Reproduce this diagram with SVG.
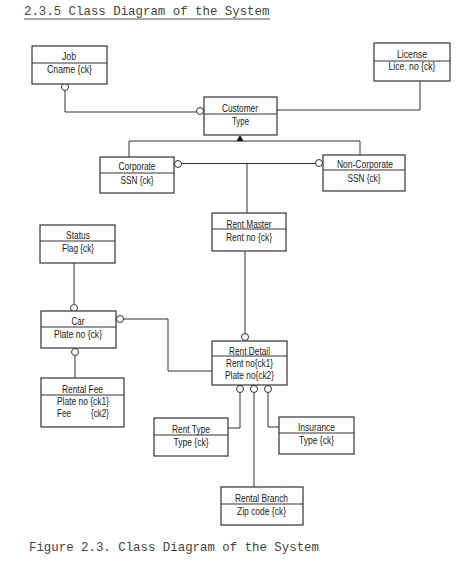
<svg xmlns="http://www.w3.org/2000/svg" width="474" height="582" viewBox="0 0 474 582">
<style>
.box{fill:#fff;stroke:#333;stroke-width:1.2}
.div{stroke:#333;stroke-width:1}
.t{font-family:"Liberation Sans",Arial,sans-serif;font-size:10.5px;fill:#1a1a1a;text-anchor:middle}
.ts{font-family:"Liberation Sans",Arial,sans-serif;font-size:10.5px;fill:#1a1a1a}
.mono{font-family:"Liberation Mono","Courier New",monospace;font-size:12.4px;fill:#444}
.ln{fill:none;stroke:#333;stroke-width:1}
.c{fill:#fff;stroke:#333;stroke-width:1}
</style>
<rect width="474" height="582" fill="#fff"/>
<text class="mono" x="24" y="15">2.3.5 Class Diagram of the System</text>
<line x1="24" y1="19" x2="270" y2="19" stroke="#555" stroke-width="1"/>

<g id="connectors">
<polyline class="ln" points="65,90.5 65,112 196.5,112"/>
<polyline class="ln" points="420,81 420,110 277,110"/>
<polyline class="ln" points="129,157 129,141 360,141 360,155"/>
<polygon points="240,135 236.5,141 243.5,141" fill="#111"/>
<line class="ln" x1="181.5" y1="163.5" x2="315.5" y2="163.5"/>
<line class="ln" x1="247" y1="163.5" x2="247" y2="213"/>
<line class="ln" x1="245" y1="251" x2="245" y2="333.5"/>
<line class="ln" x1="74" y1="263" x2="74" y2="304.5"/>
<polyline class="ln" points="123.5,319 168,319 168,371 212,371"/>
<line class="ln" x1="75" y1="355.5" x2="75" y2="378"/>
<polyline class="ln" points="240,392.5 240,428 228,428"/>
<line class="ln" x1="254" y1="392.5" x2="254" y2="487"/>
<polyline class="ln" points="268,392.5 268,427 279,427"/>
<circle class="c" cx="65" cy="87" r="3.5"/>
<circle class="c" cx="200" cy="111" r="3.5"/>
<circle class="c" cx="178" cy="164" r="3.5"/>
<circle class="c" cx="319" cy="163" r="3.5"/>
<circle class="c" cx="245" cy="337" r="3.5"/>
<circle class="c" cx="74" cy="308" r="3.5"/>
<circle class="c" cx="120" cy="319" r="3.5"/>
<circle class="c" cx="75" cy="352" r="3.5"/>
<circle class="c" cx="240" cy="389" r="3.5"/>
<circle class="c" cx="254" cy="389" r="3.5"/>
<circle class="c" cx="268" cy="389" r="3.5"/>
</g>

<g id="job">
<rect class="box" x="32" y="46" width="75" height="38"/>
<line class="div" x1="32" y1="63" x2="107" y2="63"/>
<text class="t" x="69" y="60" textLength="14" lengthAdjust="spacingAndGlyphs">Job</text>
<text class="t" x="69.5" y="72.5" textLength="45" lengthAdjust="spacingAndGlyphs">Cname {ck}</text>
</g>

<g id="license">
<rect class="box" x="374" y="43" width="76" height="38"/>
<line class="div" x1="374" y1="61" x2="450" y2="61"/>
<text class="t" x="412" y="57.5" textLength="30" lengthAdjust="spacingAndGlyphs">License</text>
<text class="t" x="412" y="69.5" textLength="47" lengthAdjust="spacingAndGlyphs">Lice. no {ck}</text>
</g>

<g id="customer">
<rect class="box" x="204" y="97" width="73" height="38"/>
<line class="div" x1="204" y1="114" x2="277" y2="114"/>
<text class="t" x="240" y="112" textLength="36" lengthAdjust="spacingAndGlyphs">Customer</text>
<text class="t" x="240.5" y="124.5" textLength="17" lengthAdjust="spacingAndGlyphs">Type</text>
</g>

<g id="corporate">
<rect class="box" x="100" y="157" width="74" height="36"/>
<line class="div" x1="100" y1="173" x2="174" y2="173"/>
<text class="t" x="137" y="170" textLength="37" lengthAdjust="spacingAndGlyphs">Corporate</text>
<text class="t" x="137" y="183.5" textLength="33" lengthAdjust="spacingAndGlyphs">SSN {ck}</text>
</g>

<g id="non-corporate">
<rect class="box" x="323" y="155" width="82" height="36"/>
<line class="div" x1="323" y1="170" x2="405" y2="170"/>
<text class="t" x="365" y="168" textLength="56" lengthAdjust="spacingAndGlyphs">Non-Corporate</text>
<text class="t" x="364" y="181.5" textLength="33" lengthAdjust="spacingAndGlyphs">SSN {ck}</text>
</g>

<g id="rent-master">
<rect class="box" x="212" y="213" width="74" height="38"/>
<line class="div" x1="212" y1="229" x2="286" y2="229"/>
<text class="t" x="249" y="228" textLength="45" lengthAdjust="spacingAndGlyphs">Rent Master</text>
<text class="t" x="249" y="240.5" textLength="46" lengthAdjust="spacingAndGlyphs">Rent no {ck}</text>
</g>

<g id="status">
<rect class="box" x="40" y="225" width="75" height="38"/>
<line class="div" x1="40" y1="241" x2="115" y2="241"/>
<text class="t" x="78" y="239" textLength="24" lengthAdjust="spacingAndGlyphs">Status</text>
<text class="t" x="78" y="251.5" textLength="32" lengthAdjust="spacingAndGlyphs">Flag {ck}</text>
</g>

<g id="car">
<rect class="box" x="41" y="311" width="75" height="37"/>
<line class="div" x1="41" y1="327" x2="116" y2="327"/>
<text class="t" x="78" y="325" textLength="13" lengthAdjust="spacingAndGlyphs">Car</text>
<text class="t" x="78" y="337.5" textLength="48" lengthAdjust="spacingAndGlyphs">Plate no {ck}</text>
</g>

<g id="rent-detail">
<rect class="box" x="212" y="341" width="75" height="44"/>
<line class="div" x1="212" y1="356" x2="287" y2="356"/>
<text class="t" x="249.5" y="354.5" textLength="41" lengthAdjust="spacingAndGlyphs">Rent Detail</text>
<text class="t" x="249.5" y="366.5" textLength="47" lengthAdjust="spacingAndGlyphs">Rent no{ck1}</text>
<text class="t" x="249.5" y="378.5" textLength="49" lengthAdjust="spacingAndGlyphs">Plate no{ck2}</text>
</g>

<g id="rental-fee">
<rect class="box" x="41" y="378" width="83" height="49"/>
<line class="div" x1="41" y1="395" x2="124" y2="395"/>
<text class="t" x="82.5" y="393" textLength="41" lengthAdjust="spacingAndGlyphs">Rental Fee</text>
<text class="ts" x="57" y="404.5" textLength="52" lengthAdjust="spacingAndGlyphs">Plate no {ck1}</text>
<text class="ts" x="57" y="416.5" textLength="14" lengthAdjust="spacingAndGlyphs">Fee</text>
<text class="ts" x="91" y="416.5" textLength="18" lengthAdjust="spacingAndGlyphs">{ck2}</text>
</g>

<g id="rent-type">
<rect class="box" x="154" y="418" width="74" height="38"/>
<line class="div" x1="154" y1="435" x2="228" y2="435"/>
<text class="t" x="191" y="433" textLength="38" lengthAdjust="spacingAndGlyphs">Rent Type</text>
<text class="t" x="191" y="445.5" textLength="35" lengthAdjust="spacingAndGlyphs">Type {ck}</text>
</g>

<g id="insurance">
<rect class="box" x="279" y="417" width="75" height="37"/>
<line class="div" x1="279" y1="433" x2="354" y2="433"/>
<text class="t" x="316.5" y="431" textLength="37" lengthAdjust="spacingAndGlyphs">Insurance</text>
<text class="t" x="316.5" y="443.5" textLength="35" lengthAdjust="spacingAndGlyphs">Type {ck}</text>
</g>

<g id="rental-branch">
<rect class="box" x="221" y="487" width="82" height="38"/>
<line class="div" x1="221" y1="504" x2="303" y2="504"/>
<text class="t" x="261.5" y="502" textLength="53" lengthAdjust="spacingAndGlyphs">Rental Branch</text>
<text class="t" x="261.5" y="514.5" textLength="49" lengthAdjust="spacingAndGlyphs">Zip code {ck}</text>
</g>

<text class="mono" x="29" y="551">Figure 2.3. Class Diagram of the System</text>
</svg>
